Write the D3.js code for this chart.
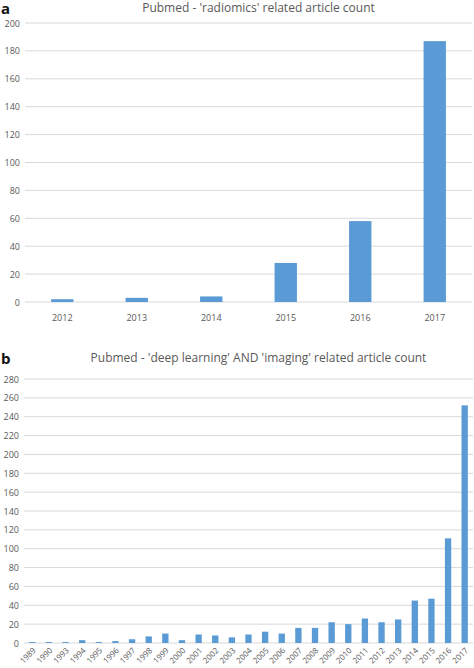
<!DOCTYPE html>
<html><head><meta charset="utf-8">
<script src="https://cdn.jsdelivr.net/npm/d3@7"></script>
<style>body{margin:0;background:#fff}text{font-family:"Open Sans",Calibri,sans-serif}</style>
</head><body><svg id="c" width="474" height="668"></svg>
<script>
var yearsA = ["2012","2013","2014","2015","2016","2017"];
var countsA = [2, 3, 4, 28, 58, 187];
var ticksA = [0,20,40,60,80,100,120,140,160,180,200];

var yearsB = ["1989","1990","1993","1994","1995","1996","1997","1998","1999","2000","2001","2002","2003","2004","2005","2006","2007","2008","2009","2010","2011","2012","2013","2014","2015","2016","2017"];
var countsB = [1,1,1,3,1,2,4,7,10,3,9,8,6,9,12,10,16,16,22,20,26,22,25,45,47,111,252];
var ticksB = [0,20,40,60,80,100,120,140,160,180,200,220,240,260,280];

var svg = d3.select("#c");
var blue = "#5b9bd5", grid = "#d9d9d9", txt = "#595959";

function panel(o) {
  var g = svg.append("g");
  var x = d3.scaleBand().domain(o.cats).range([o.x0, o.x1]).paddingInner(o.pad).paddingOuter(o.pad / 2);
  var y = d3.scaleLinear().domain([0, o.max]).range([o.y0, o.y1]);
  g.selectAll(".grid").data(o.ticks).enter().append("line")
    .attr("x1", o.x0).attr("x2", o.x1).attr("y1", d => y(d)).attr("y2", d => y(d))
    .attr("stroke", grid).attr("stroke-width", 1);
  g.selectAll(".yl").data(o.ticks).enter().append("text")
    .attr("x", o.x0 - 5).attr("y", d => y(d) + 3.5).attr("text-anchor", "end")
    .attr("font-size", 9).attr("fill", txt).text(d => d);
  g.selectAll(".bar").data(o.vals).enter().append("rect")
    .attr("x", (d, i) => x(o.cats[i])).attr("width", x.bandwidth())
    .attr("y", d => y(d)).attr("height", d => y(0) - y(d)).attr("fill", blue);
  var xl = g.selectAll(".xl").data(o.cats).enter().append("text")
    .attr("font-size", o.rot ? 8 : 9).attr("fill", txt).text(d => d);
  if (o.rot) {
    xl.attr("text-anchor", "end")
      .attr("transform", d => "translate(" + (x(d) + x.bandwidth() / 2 + 4) + "," + (o.y0 + 8) + ") rotate(-45)");
  } else {
    xl.attr("text-anchor", "middle").attr("x", d => x(d) + x.bandwidth() / 2).attr("y", o.y0 + 19);
  }
  svg.append("text").attr("x", (o.x0 + o.x1) / 2 + 10).attr("y", o.ty).attr("text-anchor", "middle")
    .attr("font-size", 12).attr("fill", txt).text(o.title);
  svg.append("text").attr("x", 1).attr("y", o.ty + 2).attr("font-size", 15).attr("font-weight", "bold")
    .attr("font-family", "Arial, Liberation Sans, sans-serif").attr("fill", "#111").text(o.letter);
}

panel({cats: yearsA, vals: countsA, ticks: ticksA, max: 200, x0: 25, x1: 472, y0: 302, y1: 23,
  pad: 0.7, title: "Pubmed - 'radiomics' related article count", letter: "a", ty: 12});
panel({cats: yearsB, vals: countsB, ticks: ticksB, max: 280, x0: 24, x1: 473, y0: 643, y1: 379,
  pad: 0.62, rot: true, title: "Pubmed - 'deep learning' AND 'imaging' related article count", letter: "b", ty: 362});
</script></body></html>
